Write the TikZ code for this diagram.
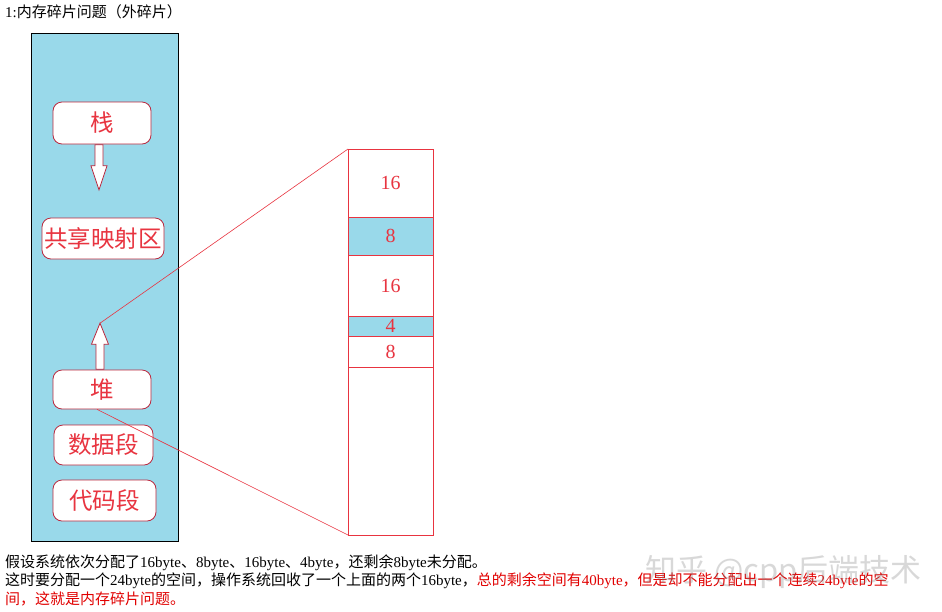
\documentclass[tikz,border=0pt]{standalone}
\usepackage{fontspec}
\setmainfont{Liberation Serif}
\newfontfamily\cjk{Noto Sans CJK SC}
\usetikzlibrary{calc}
\definecolor{pblue}{RGB}{153,217,234}
\definecolor{pred}{RGB}{232,52,64}
\definecolor{bred}{RGB}{185,40,62}
\definecolor{tred}{RGB}{225,0,0}
\tikzset{
  seg/.style={draw=bred, fill=white, rounded corners=9pt, line width=0.8pt, text=pred,
    font=\cjk\fontsize{23.5}{26}\selectfont, inner sep=0pt},
  cell/.style={draw=pred, line width=0.8pt, minimum width=85pt, inner sep=0pt, outer sep=0pt, text=pred,
    font=\fontsize{20}{22}\selectfont, anchor=north west},
  blk/.style={draw=bred, fill=white, line width=0.8pt},
  link/.style={draw=pred, line width=0.6pt},
  txt/.style={anchor=west, inner sep=0pt, font=\fontsize{15}{18}\selectfont},
}
\begin{document}
\begin{tikzpicture}[x=1pt,y=-1pt]
\useasboundingbox (0,0) rectangle (942,611);
\fill[white] (0,0) rectangle (942,611);
% title
\node[anchor=west, inner sep=0pt, font=\fontsize{15}{17}\selectfont] (title) at (5,12) {1:{\cjk 内存碎片问题（外碎片）}};
% memory layout
\node[draw=black, fill=pblue, line width=0.8pt, minimum width=147pt, minimum height=508pt, anchor=north west, inner sep=0pt] (mem) at (31,33) {};
\node[seg, minimum width=98pt, minimum height=42pt] (zhan) at (102,123) {栈};
\node[seg, minimum width=122pt, minimum height=41pt] (share) at (103,238.5) {共享映射区};
\node[seg, minimum width=98pt, minimum height=39pt] (dui) at (102,389.5) {堆};
\node[seg, minimum width=99pt, minimum height=40pt] (data) at (103.5,445) {数据段};
\node[seg, minimum width=103pt, minimum height=41pt] (code) at (104.5,500.5) {代码段};
% block arrows
\coordinate (dtop) at ($(zhan.south)+(-3,0.4)$);
\draw[blk] (dtop) ++(-4,0) -- ++(8,0) -- ++(0,21) -- ++(4,0) -- ++(-8,24) -- ++(-8,-24) -- ++(4,0) -- cycle;
\coordinate (ubase) at ($(dui.north)+(-2,-0.4)$);
\draw[blk] (ubase) ++(-4,0) -- ++(0,-25) -- ++(-4.5,0) -- ++(8.5,-21) coordinate (utip) -- ++(8.5,21) -- ++(-4.5,0) -- ++(0,25) -- cycle;
% heap detail column
\node[cell, fill=white, minimum height=68pt] (c1) at (348,149) {16};
\node[cell, fill=pblue, minimum height=38pt] (c2) at (c1.south west) {8};
\node[cell, fill=white, minimum height=61pt] (c3) at (c2.south west) {16};
\node[cell, fill=pblue, minimum height=20pt] (c4) at (c3.south west) {4};
\node[cell, fill=white, minimum height=31pt] (c5) at (c4.south west) {8};
\node[cell, fill=white, minimum height=168pt] (c6) at (c5.south west) {};
% links
\draw[link] (utip) -- (c1.north west);
\coordinate (dbot) at ($(dui.south)+(-5,0)$);
\draw[link] (dbot) -- (c6.south west);
% text
\node[txt] (l1) at (5,563) {{\cjk 假设系统依次分配了}16byte{\cjk 、}8byte{\cjk 、}16byte{\cjk 、}4byte{\cjk ，还剩余}8byte{\cjk 未分配。}};
\node[txt] (l2) at (5,581) {{\cjk 这时要分配一个}24byte{\cjk 的空间，操作系统回收了一个上面的两个}16byte{\cjk ，}\textcolor{tred}{{\cjk 总的剩余空间有}40byte{\cjk ，但是却不能分配出一个连续}24byte{\cjk 的空}}};
\node[txt, text=tred] (l3) at (5,599) {{\cjk 间，这就是内存碎片问题。}};
% watermark
\node[anchor=west, inner sep=0pt, text=gray, opacity=0.3, font=\cjk\fontsize{31}{34}\selectfont] (wm) at (645,572) {知乎 @cpp后端技术};
\end{tikzpicture}
\end{document}
